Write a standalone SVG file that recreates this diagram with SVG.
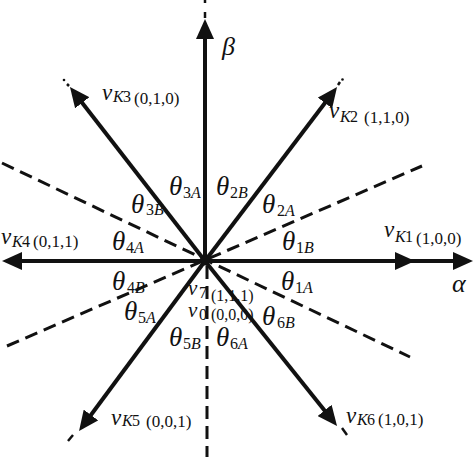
<svg xmlns="http://www.w3.org/2000/svg" width="474" height="457" viewBox="0 0 474 457">
<style>
text{font-family:"Liberation Serif","Times New Roman",serif;fill:#111}
.v{font-style:italic;font-size:23px}
.vs{font-style:italic;font-size:21px}
.k{font-style:italic;font-size:16px}
.n{font-size:16px}
.p{font-size:17px}
.ps{font-size:16px}
.th{font-style:italic;font-size:27px}
.ax{font-style:italic;font-size:26px}
.solid{stroke:#111;stroke-width:4;fill:none}
.dash{stroke:#111;stroke-width:3;fill:none;stroke-dasharray:13 7}
.ext{stroke:#111;stroke-width:2.5;fill:none}
</style>
<defs>
<marker id="ah" viewBox="0 0 20 18" refX="10" refY="9" markerWidth="20" markerHeight="18" markerUnits="userSpaceOnUse" orient="auto">
<path d="M0,0 L20,9 L0,18 Z" fill="#111"/>
</marker>
</defs>
<rect width="474" height="457" fill="#fff"/>
<g id="guides">
<line class="dash" x1="207" y1="266" x2="207" y2="457"/>
<line class="dash" x1="2" y1="163" x2="410" y2="357"/>
<line class="dash" x1="7" y1="346" x2="422" y2="166"/>
<line class="ext" x1="205" y1="0" x2="205" y2="3"/>
<line class="ext" x1="205" y1="12" x2="205" y2="18"/>
<line class="ext" x1="338" y1="85" x2="340" y2="82"/>
<circle cx="342.5" cy="79.5" r="1.3" fill="#111"/>
<line class="ext" x1="69" y1="86" x2="67" y2="84"/>
<circle cx="64" cy="80" r="1.3" fill="#111"/>
<line class="ext" x1="73" y1="435" x2="68" y2="441"/>
<line class="ext" x1="342" y1="428" x2="347" y2="435"/>
</g>
<g id="connectors">
<line class="solid" x1="205" y1="261" x2="12" y2="261" marker-end="url(#ah)"/>
<line class="solid" x1="205" y1="261" x2="405" y2="261" marker-end="url(#ah)"/>
<line class="solid" x1="405" y1="261" x2="463" y2="261" marker-end="url(#ah)"/>
<line class="solid" x1="205" y1="261" x2="205" y2="29" marker-end="url(#ah)"/>
<line class="solid" x1="205" y1="261" x2="331" y2="95" marker-end="url(#ah)"/>
<line class="solid" x1="205" y1="261" x2="76.1" y2="94.9" marker-end="url(#ah)"/>
<line class="solid" x1="205" y1="261" x2="85" y2="423" marker-end="url(#ah)"/>
<line class="solid" x1="205" y1="261" x2="330.8" y2="418.2" marker-end="url(#ah)"/>
<circle cx="205" cy="261" r="4.5" fill="#111"/>
</g>
<g id="axis-labels">
<text class="ax" x="452" y="292">α</text>
<text class="ax" x="222" y="55">β</text>
</g>
<g id="vk1"><text><tspan class="v" x="384" y="237">v</tspan><tspan class="k" x="395" y="242">K</tspan><tspan class="n" x="405" y="242">1</tspan><tspan class="p" x="416" y="244">(1,0,0)</tspan></text></g>
<g id="vk2"><text><tspan class="v" x="329" y="118">v</tspan><tspan class="k" x="340" y="122">K</tspan><tspan class="n" x="350" y="122">2</tspan><tspan class="p" x="364" y="123">(1,1,0)</tspan></text></g>
<g id="vk3"><text><tspan class="v" x="102" y="100">v</tspan><tspan class="k" x="113" y="102">K</tspan><tspan class="n" x="123" y="102">3</tspan><tspan class="p" x="134" y="104">(0,1,0)</tspan></text></g>
<g id="vk4"><text><tspan class="v" x="1" y="244">v</tspan><tspan class="k" x="12" y="247">K</tspan><tspan class="n" x="22" y="247">4</tspan><tspan class="p" x="33" y="247">(0,1,1)</tspan></text></g>
<g id="vk5"><text><tspan class="v" x="111" y="425">v</tspan><tspan class="k" x="122" y="426">K</tspan><tspan class="n" x="132" y="426">5</tspan><tspan class="p" x="146" y="427">(0,0,1)</tspan></text></g>
<g id="vk6"><text><tspan class="v" x="346" y="423">v</tspan><tspan class="k" x="357" y="425">K</tspan><tspan class="n" x="367" y="425">6</tspan><tspan class="p" x="378" y="425">(1,0,1)</tspan></text></g>
<g id="v7"><text><tspan class="vs" x="188" y="295">v</tspan><tspan class="n" x="199" y="298">7</tspan><tspan class="ps" x="211" y="301">(1,1,1)</tspan></text></g>
<g id="v0"><text><tspan class="vs" x="188" y="317">v</tspan><tspan class="n" x="199" y="320">0</tspan><tspan class="ps" x="211" y="320">(0,0,0)</tspan></text></g>
<g id="angles">
<text><tspan class="th" x="169" y="195">θ</tspan><tspan class="n" x="183" y="198">3</tspan><tspan class="k" x="191" y="198">A</tspan></text>
<text><tspan class="th" x="216" y="195">θ</tspan><tspan class="n" x="230" y="198">2</tspan><tspan class="k" x="238" y="198">B</tspan></text>
<text><tspan class="th" x="131" y="213">θ</tspan><tspan class="n" x="146" y="215">3</tspan><tspan class="k" x="154" y="215">B</tspan></text>
<text><tspan class="th" x="262" y="213">θ</tspan><tspan class="n" x="277" y="216">2</tspan><tspan class="k" x="285" y="216">A</tspan></text>
<text><tspan class="th" x="282" y="250">θ</tspan><tspan class="n" x="296" y="253">1</tspan><tspan class="k" x="304" y="253">B</tspan></text>
<text><tspan class="th" x="281" y="290">θ</tspan><tspan class="n" x="295" y="293">1</tspan><tspan class="k" x="303" y="293">A</tspan></text>
<text><tspan class="th" x="112" y="250">θ</tspan><tspan class="n" x="126" y="253">4</tspan><tspan class="k" x="134" y="253">A</tspan></text>
<text><tspan class="th" x="112" y="290">θ</tspan><tspan class="n" x="127" y="293">4</tspan><tspan class="k" x="135" y="293">B</tspan></text>
<text><tspan class="th" x="124" y="320">θ</tspan><tspan class="n" x="138" y="323">5</tspan><tspan class="k" x="146" y="323">A</tspan></text>
<text><tspan class="th" x="169" y="346">θ</tspan><tspan class="n" x="183" y="349">5</tspan><tspan class="k" x="191" y="349">B</tspan></text>
<text><tspan class="th" x="216" y="346">θ</tspan><tspan class="n" x="230" y="349">6</tspan><tspan class="k" x="238" y="349">A</tspan></text>
<text><tspan class="th" x="262" y="325">θ</tspan><tspan class="n" x="277" y="328">6</tspan><tspan class="k" x="285" y="328">B</tspan></text>
</g>
</svg>
